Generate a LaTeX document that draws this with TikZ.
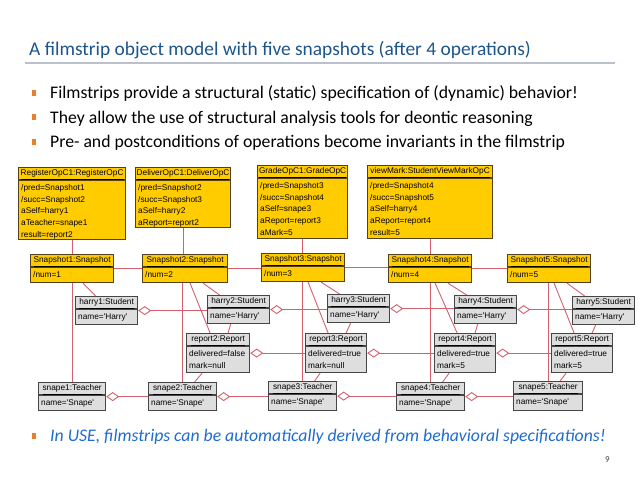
\documentclass[tikz,border=0pt]{standalone}
\usepackage{fontspec}
\setmainfont{Carlito}
\newfontfamily\umlfont{Liberation Sans}
\usetikzlibrary{arrows.meta, backgrounds, positioning}

\definecolor{titleblue}{RGB}{28,84,140}
\definecolor{useblue}{RGB}{30,108,208}
\definecolor{bulletorange}{RGB}{232,128,40}
\definecolor{rulegrey}{RGB}{186,192,204}
\definecolor{opyellow}{RGB}{255,204,0}
\definecolor{opedge}{RGB}{84,66,28}
\definecolor{objgrey}{RGB}{222,222,222}
\definecolor{objedge}{RGB}{70,70,70}
\definecolor{linkred}{RGB}{212,96,110}

% one UML object: style, name, x, y, width, height, header, attributes
\newcommand{\umlobj}[8]{%
  \node[#1, minimum width=#5pt, minimum height=#6pt, anchor=north west] (#2) at (#3,#4) {};
  \draw[#1, fill=none] ([yshift=-13pt]#2.north west) -- ([yshift=-13pt]#2.north east);
  \node[hdr, anchor=base] at ([yshift=-9pt]#2.north) {\underline{#7}};
  \foreach \a [count=\k] in {#8}
    \node[attr, anchor=base west] at ([xshift=3pt, yshift={-11.5pt-\k*11.8pt}]#2.north west) {\a};
}

\begin{document}
\begin{tikzpicture}[
    x=1pt, y=-1pt,
    opbox/.style={draw=opedge, fill=opyellow, line width=1.2pt, inner sep=0pt},
    objbox/.style={draw=objedge, fill=objgrey, line width=1.2pt, inner sep=0pt},
    hdr/.style={font=\umlfont\fontsize{8.3}{10}\selectfont, inner sep=0pt},
    attr/.style={font=\umlfont\fontsize{8.3}{10}\selectfont, inner sep=0pt},
    link/.style={linkred, line width=0.9pt},
    agg/.style={link, {Diamond[length=13pt, width=9pt, fill=white]}-},
    titletext/.style={font=\fontsize{19.4}{23}\selectfont, text=titleblue, inner sep=0pt},
    bullettext/.style={font=\fontsize{17.7}{21}\selectfont, inner sep=0pt},
    bulletsq/.style={fill=bulletorange, minimum width=4.5pt, minimum height=5.5pt, inner sep=0pt}
  ]
  \useasboundingbox (0,0) rectangle (638,478);

  % title and bullets
  \node[titletext, anchor=base west] (title) at (29,56)
    {A filmstrip object model with five snapshots (after 4 operations)};
  \draw[rulegrey, line width=1.2pt] (25,63) -- (615,63);

  \node[bulletsq] (sq1) at (34,93) {};
  \node[bullettext, anchor=base west] (b1) at (50,99)
    {Filmstrips provide a structural (static) specification of (dynamic) behavior!};
  \node[bulletsq] (sq2) at (34,117) {};
  \node[bullettext, anchor=base west] (b2) at (50,124)
    {They allow the use of structural analysis tools for deontic reasoning};
  \node[bulletsq] (sq3) at (34,142) {};
  \node[bullettext, anchor=base west] (b3) at (50,148)
    {Pre- and postconditions of operations become invariants in the filmstrip};
  \node[bulletsq] (sq4) at (34,436) {};
  \node[bullettext, anchor=base west, text=useblue, font=\fontsize{17.7}{21}\selectfont\itshape] (b4) at (50,442)
    {In USE, filmstrips can be automatically derived from behavioral specifications!};
  \node[anchor=base east, font=\fontsize{9}{11}\selectfont, text=black!75, inner sep=0pt] (pg) at (610,463) {9};

  % operations
  \umlobj{opbox}{op1}{18}{167}{107}{72}{RegisterOpC1:RegisterOpC}
    {/pred=Snapshot1, /succ=Snapshot2, aSelf=harry1, aTeacher=snape1, result=report2}
  \umlobj{opbox}{op2}{135}{167}{95}{60}{DeliverOpC1:DeliverOpC}
    {/pred=Snapshot2, /succ=Snapshot3, aSelf=harry2, aReport=report2}
  \umlobj{opbox}{op3}{257}{165}{90}{73}{GradeOpC1:GradeOpC}
    {/pred=Snapshot3, /succ=Snapshot4, aSelf=snape3, aReport=report3, aMark=5}
  \umlobj{opbox}{op4}{367}{165}{125}{73}{viewMark:StudentViewMarkOpC}
    {/pred=Snapshot4, /succ=Snapshot5, aSelf=harry4, aReport=report4, result=5}

  % snapshots
  \umlobj{opbox}{s1}{30}{254}{83}{28}{Snapshot1:Snapshot}{/num=1}
  \umlobj{opbox}{s2}{142}{254}{85}{28}{Snapshot2:Snapshot}{/num=2}
  \umlobj{opbox}{s3}{261}{253}{83}{28}{Snapshot3:Snapshot}{/num=3}
  \umlobj{opbox}{s4}{388}{254}{83}{28}{Snapshot4:Snapshot}{/num=4}
  \umlobj{opbox}{s5}{507}{254}{83}{28}{Snapshot5:Snapshot}{/num=5}

  % students
  \umlobj{objbox}{h1}{75}{296}{62}{28}{harry1:Student}{name='Harry'}
  \umlobj{objbox}{h2}{207}{295}{62}{28}{harry2:Student}{name='Harry'}
  \umlobj{objbox}{h3}{327}{294}{62}{28}{harry3:Student}{name='Harry'}
  \umlobj{objbox}{h4}{454}{295}{62}{28}{harry4:Student}{name='Harry'}
  \umlobj{objbox}{h5}{572}{296}{62}{28}{harry5:Student}{name='Harry'}

  % reports
  \umlobj{objbox}{r2}{186}{333}{63}{39}{report2:Report}{delivered=false, mark=null}
  \umlobj{objbox}{r3}{305}{333}{61}{39}{report3:Report}{delivered=true, mark=null}
  \umlobj{objbox}{r4}{434}{333}{61}{39}{report4:Report}{delivered=true, mark=5}
  \umlobj{objbox}{r5}{551}{333}{61}{39}{report5:Report}{delivered=true, mark=5}

  % teachers
  \umlobj{objbox}{t1}{38}{382}{67}{28}{snape1:Teacher}{name='Snape'}
  \umlobj{objbox}{t2}{148}{382}{68}{28}{snape2:Teacher}{name='Snape'}
  \umlobj{objbox}{t3}{268}{381}{68}{29}{snape3:Teacher}{name='Snape'}
  \umlobj{objbox}{t4}{396}{382}{68}{28}{snape4:Teacher}{name='Snape'}
  \umlobj{objbox}{t5}{513}{381}{69}{29}{snape5:Teacher}{name='Snape'}

  % links behind the boxes
  \begin{pgfonlayer}{background}
    \foreach \i in {1,...,4}
      \draw[link] (op\i.south) -- (op\i.south |- s\i.north);
    \foreach \i in {1,...,5}
      \draw[link] (t\i.north |- s\i.south) -- (t\i.north);
    \foreach \i/\j in {1/2, 2/3, 3/4, 4/5} {
      \draw[link] (s\i.east) -- (s\j.west |- s\i.east);
      \draw[agg] (h\i.east) -- (h\j.west |- h\i.east);
      \draw[agg] (t\i.east) -- (t\j.west |- t\i.east);
    }
    \foreach \i/\j in {2/3, 3/4, 4/5}
      \draw[agg] (r\i.east) -- (r\j.west |- r\i.east);
    \draw[link] ([xshift=11pt]s1.south) -- ([xshift=-11pt]h1.north);
    \foreach \i in {2,...,5} {
      \draw[link] ([xshift=5pt]s\i.south) -- ([xshift=-8pt]r\i.north);
      \draw[link] ([xshift=18pt]s\i.south) -- ([xshift=-19pt]h\i.north);
      \draw[link] ([xshift=-8pt]h\i.south) -- ([xshift=10pt]r\i.north);
      \draw[link] ([xshift=-16pt]r\i.south) -- ([xshift=12pt]t\i.north);
    }
  \end{pgfonlayer}
\end{tikzpicture}
\end{document}
